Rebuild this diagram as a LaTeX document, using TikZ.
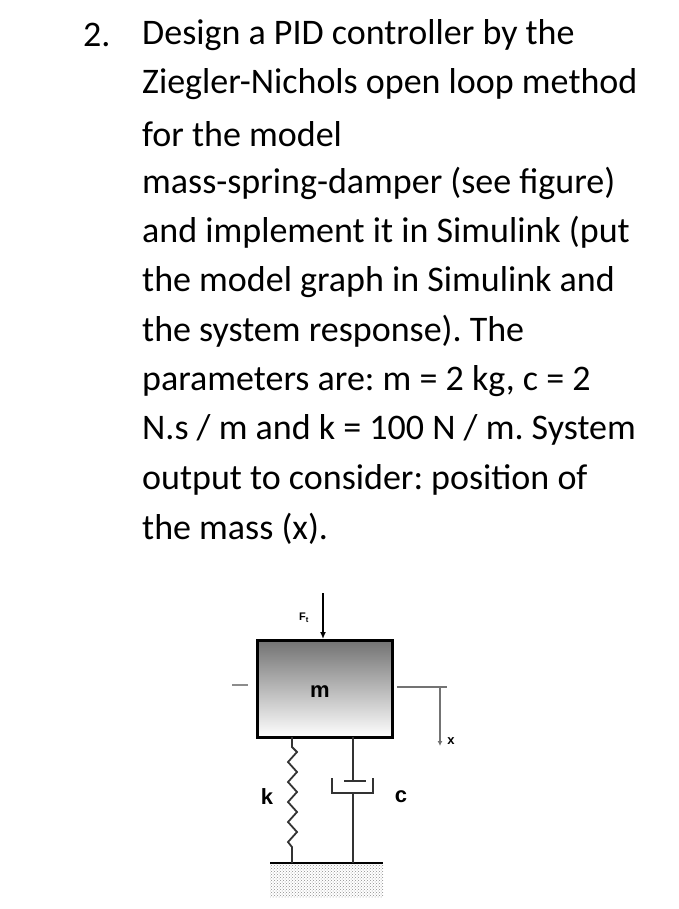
\documentclass[tikz,border=0pt]{standalone}
\usepackage{fontspec}
\setmainfont{Carlito}
\newfontfamily\lblfont{Liberation Sans}
\frenchspacing
\usetikzlibrary{patterns,arrows.meta}
\begin{document}
\begin{tikzpicture}[x=1pt,y=-1pt,
  txt/.style={anchor=west,inner sep=0pt,font=\fontsize{36}{36}\selectfont},
  lbl/.style={inner sep=0pt},
  thin/.style={line width=1.8pt,draw=black!80}]
\useasboundingbox (0,0) rectangle (679,909);
\node[txt] (n) at (83,35) {2.};
\foreach \t [count=\i from 0] in {Design a PID controller by the,Ziegler-Nichols open loop method,for the model,mass-spring-damper (see figure),and implement it in Simulink (put,the model graph in Simulink and,the system response). The,{parameters are: m = 2 kg, c = 2},N.s / m and k = 100 N / m. System,output to consider: position of,the mass (x).}
  \node[txt] (l\i) at (142,35+49.4*\i) {\t};
% ground
\fill[pattern=crosshatch dots,pattern color=black!45] (270,863) rectangle (383,897);
\node[inner sep=0pt,minimum width=113pt,minimum height=34pt,anchor=north west] (gnd) at (270,863) {};
\draw[line width=2.5pt] (gnd.north west) -- (gnd.north east);
% mass
\node[draw,line width=3pt,minimum width=135pt,minimum height=97pt,top color=black!55,bottom color=white,anchor=north west,inner sep=0pt] (m) at (256,639) {};
\node[lbl,font=\lblfont\bfseries\fontsize{22}{22}\selectfont] at (320,692) {m};
% force
\coordinate (ft) at (323,593);
\draw[line width=1.5pt,-{Latex[length=7pt,width=6pt]}] (ft) -- (m.north -| ft);
\node[lbl,font=\lblfont\bfseries\fontsize{11}{11}\selectfont] (ftl) at (304,618) {F\textsubscript{t}};
% ticks
\coordinate (tl) at (232,685);
\draw[line width=1.2pt,draw=black!45] (tl) -- ++(16,0);
\coordinate (tr) at (397,687);
\coordinate (tc) at (440,687);
\coordinate (tx) at (440,746);
\draw[line width=1.2pt,draw=black!55] (tr) -- ++(50,0);
\draw[line width=1.2pt,draw=black!55,-{Latex[length=5pt,width=5pt]}] (tc) -- (tx);
\node[lbl,font=\lblfont\bfseries\fontsize{13}{13}\selectfont] (xl) at (451,741) {x};
% spring
\draw[thin] (292,737) -- (292,747) -- (297,752) -- (288,762) -- (297,772) -- (288,782) -- (297,792) -- (288,802) -- (297,812) -- (288,822) -- (297,832) -- (288,842) -- (292,847) -- (292,863);
\node[lbl,font=\lblfont\bfseries\fontsize{22}{22}\selectfont] (k) at (267,797) {k};
% damper
\draw[thin] (353,737) -- (353,781);
\draw[thin] (344,781) -- (366,781);
\draw[thin] (332,778) -- (332,793) -- (373,793) -- (373,778);
\draw[thin] (353,793) -- (353,863);
\node[lbl,font=\lblfont\bfseries\fontsize{22}{22}\selectfont] (c) at (401,797) {c};
\end{tikzpicture}
\end{document}
